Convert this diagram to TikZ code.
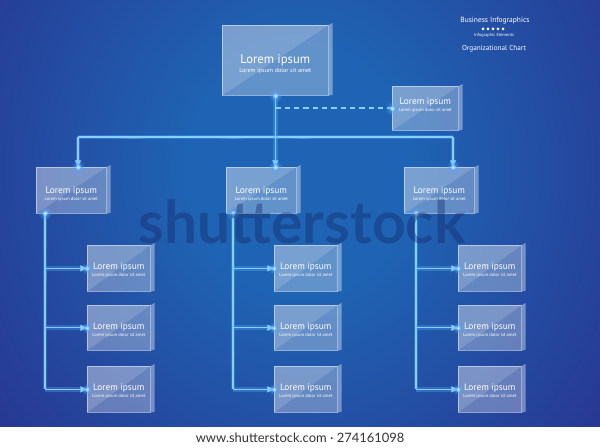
\documentclass[tikz,border=0pt]{standalone}
\usepackage{fontspec}
\setmainfont{PT Sans}
\newfontfamily\latofont{Lato}
\usetikzlibrary{arrows.meta,calc,fadings}
\definecolor{bgdark}{HTML}{2A2F8C}
\definecolor{bglight}{HTML}{1F64B4}
\definecolor{wirec}{HTML}{86CFFF}
\definecolor{glowc}{HTML}{4FA8FF}
\definecolor{spotc}{HTML}{D8F0FF}
\definecolor{bandc}{HTML}{5A6CE0}
\definecolor{wmc}{HTML}{14286A}
\pgfdeclareradialshading{bgshade}{\pgfpoint{0bp}{0bp}}{color(0bp)=(bglight); color(6bp)=(bglight); color(24bp)=(bgdark); color(50bp)=(bgdark)}
\tikzfading[name=glowfade, inner color=transparent!0, outer color=transparent!100]
\tikzfading[name=midfade, left color=transparent!100, middle color=transparent!0, right color=transparent!100]
\tikzset{
  glass/.style={draw=white, draw opacity=0.5, line width=0.5pt, fill=white, fill opacity=0.3,
    inner sep=0pt,
    path picture={\fill[white, opacity=0.14] (path picture bounding box.south west) -- (path picture bounding box.north east) -- (path picture bounding box.north west) -- cycle;}},
  sideface/.style={fill=white, fill opacity=0.38},
  wire/.style={draw=wirec, line width=1pt, preaction={draw=glowc, line width=3.5pt, draw opacity=0.35, arrows=-}},
  arr/.style={wire, -{Triangle[length=5pt,width=4.5pt]}},
  dwire/.style={draw=wirec, line width=1.6pt, dash pattern=on 4pt off 3pt},
  lbl/.style={text=white, inner sep=0pt}
}
% name, x, y, w, h, title size, sub size, line skip, text shift
\newcommand\gbox[9]{%
  \node[glass, anchor=north west, minimum width=#4*0.75pt, minimum height=#5*0.75pt] (#1) at (#2,#3) {};
  \fill[sideface] (#1.north east) -- ++(4,-2) -- ($(#1.south east)+(4,-1)$) -- (#1.south east) -- cycle;
  \node[lbl, align=center, font=\fontsize{#7}{#8}\selectfont] (#1t) at ($(#1.center)+(0,#9)$)
    {\fontsize{#6}{#6}\selectfont Lorem ipsum\\ Lorem ipsum dolor sit amet};
}
\newcommand\glowat[2][7]{%
  \fill[glowc, path fading=glowfade, opacity=0.8] (#2) circle (#1);
  \fill[spotc, path fading=glowfade] (#2) circle (#1*0.45);
}
\begin{document}
\begin{tikzpicture}[x=0.75pt, y=-0.75pt]
% background
\begin{scope}
  \clip (0,0) rectangle (600,427);
  \shade[shading=bgshade] (-150,-330) rectangle (750,670);
\end{scope}
\fill[white] (0,427) rectangle (600,448);
\useasboundingbox (0,0) rectangle (600,448);

% title area
\fill[bandc, path fading=midfade, opacity=0.75] (420,14) rectangle (620,40);
\fill[white, path fading=midfade, opacity=0.8] (430,12.8) rectangle (600,14.2);
\fill[white, path fading=midfade, opacity=0.8] (430,40) rectangle (600,41.4);
\node[lbl, font=\fontsize{5.6}{6}\selectfont] (bi) at (495,21) {Business Infographics};
\foreach \i in {0,...,4} {\fill[white] (483+5*\i,29) circle (1.5);}
\node[lbl, font=\fontsize{3.3}{4}\selectfont] (ie) at (494,35.5) {Infographic Elements};
\node[lbl, font=\fontsize{5.4}{6}\selectfont] (oc) at (494,49) {Organizational Chart};

% boxes
\gbox{top}{222}{25}{106}{70}{9.5}{4.6}{7}{4}
\gbox{rbox}{392}{86}{66}{44}{7}{3.4}{5}{-3}
\gbox{lA}{36}{167}{70}{46}{7}{3.4}{5}{4}
\gbox{lB}{226}{167}{70}{46}{7}{3.4}{5}{4}
\gbox{lC}{404}{167}{70}{46}{7}{3.4}{5}{4}
\gbox{aA}{87}{245}{63}{46}{7}{3.4}{5}{2}
\gbox{aB}{87}{305}{63}{45}{7}{3.4}{5}{2}
\gbox{aC}{87}{366}{63}{46}{7}{3.4}{5}{2}
\gbox{bA}{274}{245}{63}{46}{7}{3.4}{5}{2}
\gbox{bB}{274}{305}{63}{45}{7}{3.4}{5}{2}
\gbox{bC}{274}{366}{63}{46}{7}{3.4}{5}{2}
\gbox{cA}{458}{245}{63}{46}{7}{3.4}{5}{2}
\gbox{cB}{458}{305}{63}{45}{7}{3.4}{5}{2}
\gbox{cC}{458}{366}{63}{46}{7}{3.4}{5}{2}

% connectors
\coordinate (barL) at (78,137);
\coordinate (barR) at (453,137);
\coordinate (va) at (45,213);
\coordinate (vb) at (233,213);
\coordinate (vc) at (416,213);
\draw[wire] (barL) -- (barR);
\draw[arr] (barL) -- (barL |- lA.north);
\draw[arr] (barR) -- (barR |- lC.north);
\draw[arr] (top.south) -- (top.south |- lB.north);
\draw[dwire] (top.south |- rbox.west) -- (rbox.west);

\draw[wire] (va) -- (va |- aC.west);
\draw[arr] (va |- aA.west) -- (aA.west);
\draw[arr] (va |- aB.west) -- (aB.west);
\draw[arr] (va |- aC.west) -- (aC.west);
\draw[wire] (vb) -- (vb |- bC.west);
\draw[arr] (vb |- bA.west) -- (bA.west);
\draw[arr] (vb |- bB.west) -- (bB.west);
\draw[arr] (vb |- bC.west) -- (bC.west);
\draw[wire] (vc) -- (vc |- cC.west);
\draw[arr] (vc |- cA.west) -- (cA.west);
\draw[arr] (vc |- cB.west) -- (cB.west);
\draw[arr] (vc |- cC.west) -- (cC.west);

% glows
\glowat{top.south}
\glowat{rbox.west}
\glowat{barL |- lA.north}
\glowat{barR |- lC.north}
\glowat{top.south |- lB.north}
\glowat{va}\glowat{vb}\glowat{vc}
\glowat[6]{aA.west}\glowat[6]{aB.west}\glowat[6]{aC.west}
\glowat[6]{bA.west}\glowat[6]{bB.west}\glowat[6]{bC.west}
\glowat[6]{cA.west}\glowat[6]{cB.west}\glowat[6]{cC.west}
\fill[wirec, path fading=glowfade, opacity=0.7] (132,137) ellipse (22 and 1.8);
\fill[wirec, path fading=glowfade, opacity=0.7] (232,137) ellipse (18 and 1.8);
\fill[wirec, path fading=glowfade, opacity=0.7] (302,137) ellipse (16 and 1.8);
\fill[wirec, path fading=glowfade, opacity=0.5] (45,275) ellipse (1.8 and 14);

% watermark
\node[font=\latofont\bfseries\fontsize{44}{44}\selectfont, text=wmc, text opacity=0.4, inner sep=0pt] (wm) at (302,222) {shutterstock};
\node[font=\latofont\fontsize{9.7}{10}\selectfont, text=black!80, inner sep=0pt] (url) at (300,438) {www.shutterstock.com · 274161098};
\end{tikzpicture}
\end{document}
